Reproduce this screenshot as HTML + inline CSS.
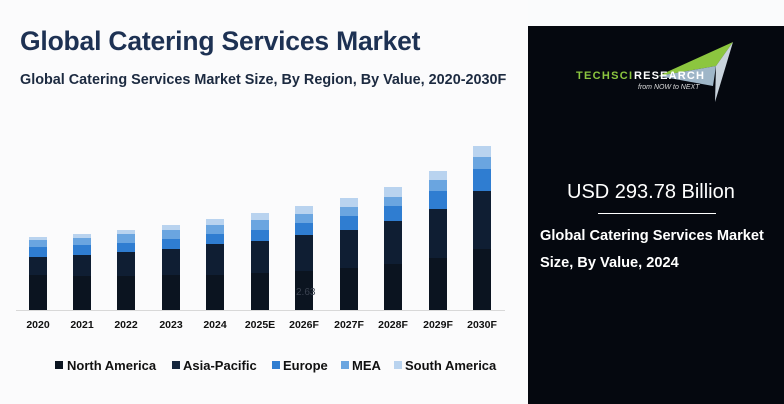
<!DOCTYPE html>
<html><head><meta charset="utf-8"><style>
body{margin:0;width:784px;height:404px;overflow:hidden;background:#fafbfc;font-family:"Liberation Sans",sans-serif;position:relative}
.a{position:absolute;white-space:nowrap}
</style></head><body>
<div class="a" style="left:0;top:0;width:528px;height:404px;background:#fbfbfc"></div>
<div class="a" style="left:20px;top:26px;font-size:26.5px;font-weight:bold;color:#1d3153;letter-spacing:-0.2px">Global Catering Services Market</div>
<div class="a" style="left:20px;top:72px;font-size:14.4px;font-weight:bold;color:#1c2a40">Global Catering Services Market Size, By Region, By Value, 2020-2030F</div>
<svg class="a" style="left:0;top:0" width="528" height="404">
<line x1="16" y1="310.5" x2="505" y2="310.5" stroke="#d8d8d8" stroke-width="1"/>
<g id="bars"></g>
<text x="296" y="295" font-size="10" fill="#3a4250" font-family="Liberation Sans">2.63</text>
<g font-family="Liberation Sans" font-size="10.5" font-weight="bold" fill="#111" text-anchor="middle">
<text x="38" y="328">2020</text><text x="82" y="328">2021</text><text x="126" y="328">2022</text><text x="171" y="328">2023</text><text x="215" y="328">2024</text><text x="260" y="328">2025E</text><text x="304" y="328">2026F</text><text x="349" y="328">2027F</text><text x="393" y="328">2028F</text><text x="438" y="328">2029F</text><text x="482" y="328">2030F</text>
</g>
<g font-family="Liberation Sans" font-size="13" font-weight="bold" fill="#111">
<rect x="55" y="361" width="8" height="8" fill="#0b1420"/><text x="67" y="370">North America</text>
<rect x="172" y="361" width="8" height="8" fill="#15263d"/><text x="183" y="370">Asia-Pacific</text>
<rect x="272" y="361" width="8" height="8" fill="#2f7dd1"/><text x="283" y="370">Europe</text>
<rect x="341" y="361" width="8" height="8" fill="#6aa5e0"/><text x="352" y="370">MEA</text>
<rect x="394" y="361" width="8" height="8" fill="#b9d3ef"/><text x="405" y="370">South America</text>
</g>
</svg>
<div class="a" style="left:528px;top:26px;width:256px;height:378px;background:#05080f"></div>
<svg class="a" style="left:528px;top:26px" width="256" height="120">
<polygon points="130,50 205,16 188,40" fill="#8cc63f"/>
<polygon points="130,50 188,40 185,60" fill="#9fb6c8"/>
<polygon points="188,40 205,16 187,76" fill="#c9d3dc"/>
<text x="48" y="53" font-family="Liberation Sans" font-size="11" font-weight="bold" fill="#8cc63f" textLength="56">TECHSCI</text>
<text x="106" y="53" font-family="Liberation Sans" font-size="11" font-weight="bold" fill="#fff" textLength="70">RESEARCH</text>
<text x="110" y="63" font-family="Liberation Sans" font-size="7" font-style="italic" fill="#ddd">from NOW to NEXT</text>
</svg>
<div class="a" style="left:567px;top:181px;font-size:20px;color:#fff">USD 293.78 Billion</div>
<div class="a" style="left:598px;top:213px;width:118px;height:1px;background:#fff"></div>
<div class="a" style="left:540px;top:228px;font-size:14.6px;font-weight:bold;color:#fff">Global Catering Services Market</div>
<div class="a" style="left:540px;top:255px;font-size:14.6px;font-weight:bold;color:#fff">Size, By Value, 2024</div>
<script>
var xs=[29,73,117,162,206,251,295,340,384,429,473];
var d=[[237,240,247,257,275],[234,238,245,255,276],[230,234,243,252,276],[225,230,239,249,275],[219,225,234,244,275],[213,220,230,241,273],[206,214,223,235,271],[198,207,216,230,268],[187,197,206,221,264],[171,180,191,209,258],[146,157,169,191,249]];
var c=["#b9d3ef","#6aa5e0","#2f7dd1","#0f1e33","#0b1420"];
var s="";
for(var i=0;i<11;i++){var b=d[i].concat([310]);for(var k=0;k<5;k++){s+='<rect x="'+xs[i]+'" y="'+b[k]+'" width="18" height="'+(b[k+1]-b[k])+'" fill="'+c[k]+'"/>';}}
document.getElementById("bars").innerHTML=s;
</script>
</body></html>
